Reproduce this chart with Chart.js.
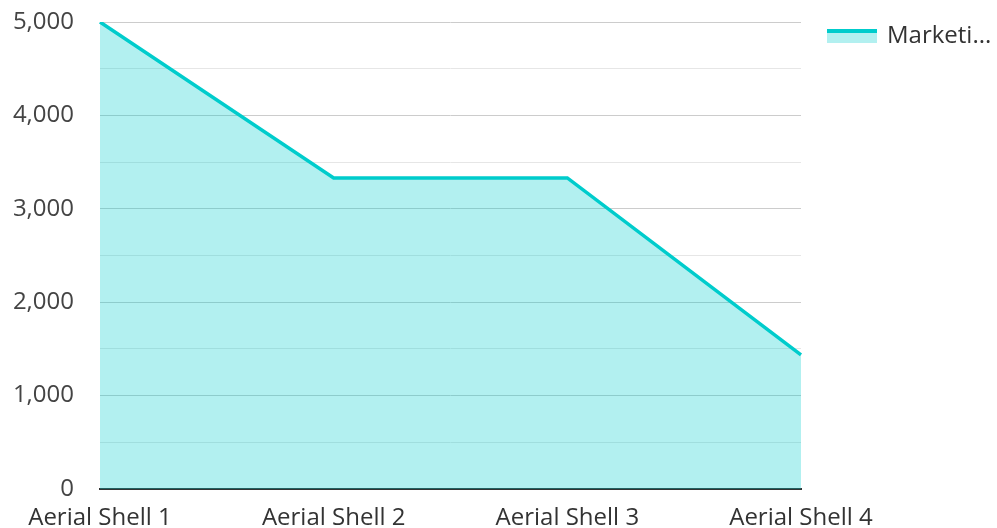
<!DOCTYPE html>
<html>
<head>
<meta charset="utf-8">
<script src="https://cdn.jsdelivr.net/npm/chart.js@4/dist/chart.umd.min.js"></script>
<style>
  html, body { margin: 0; padding: 0; background: #fff; }
  #wrap { position: relative; width: 997px; height: 528px; }
  #chart { display: block; }
  #legend { position: absolute; left: 827px; top: 17px; font: 24px "Open Sans"; color: #333; display: flex; align-items: center; }
  #legend .swatch { width: 50px; height: 10px; border-top: 4px solid #00cccc; background: rgba(0, 204, 204, 0.3); margin-right: 10px; margin-top: 4px; }
</style>
</head>
<body>
<div id="wrap">
  <canvas id="chart" width="997" height="528"></canvas>
  <div id="legend"><span class="swatch"></span><span id="legendText"></span></div>
</div>
<script>
const categories = ['Aerial Shell 1', 'Aerial Shell 2', 'Aerial Shell 3', 'Aerial Shell 4'];
const seriesName = 'Marketing';
const marketing = [5000, 3330, 3330, 1435];

document.getElementById('legendText').textContent = seriesName.slice(0, 7) + '...';

const ctx = document.getElementById('chart').getContext('2d');
new Chart(ctx, {
    type: 'line',
    data: {
        labels: categories,
        datasets: [{
            label: seriesName,
            data: marketing,
            borderColor: '#00cccc',
            backgroundColor: 'rgba(0, 204, 204, 0.3)',
            borderWidth: 3.5,
            fill: 'origin',
            pointRadius: 0,
            tension: 0
        }]
    },
    options: {
        responsive: false,
        animation: false,
        layout: { padding: { left: 10, right: 196, top: 22, bottom: 0 } },
        plugins: { legend: { display: false }, tooltip: { enabled: false } },
        scales: {
            x: {
                offset: false,
                afterFit: s => { s.height = 39; },
                grid: { display: false, drawTicks: false },
                border: { color: '#333', width: 2 },
                ticks: { color: '#333', padding: 15, maxRotation: 0, font: { family: 'Open Sans', size: 24 } }
            },
            y: {
                min: 0,
                max: 5000,
                afterFit: s => { s.width = 90; s.paddingTop = 0; s.paddingBottom = 0; },
                grid: {
                    drawTicks: false,
                    color: c => (c.tick && c.tick.value % 1000 === 0) ? '#cccccc' : '#e6e6e6',
                    lineWidth: 1
                },
                border: { display: false },
                ticks: {
                    stepSize: 500,
                    padding: 26,
                    color: '#444',
                    font: { family: 'Open Sans', size: 24 },
                    callback: v => v % 1000 === 0 ? v.toLocaleString('en-US') : ''
                }
            }
        }
    }
});
</script>
</body>
</html>
